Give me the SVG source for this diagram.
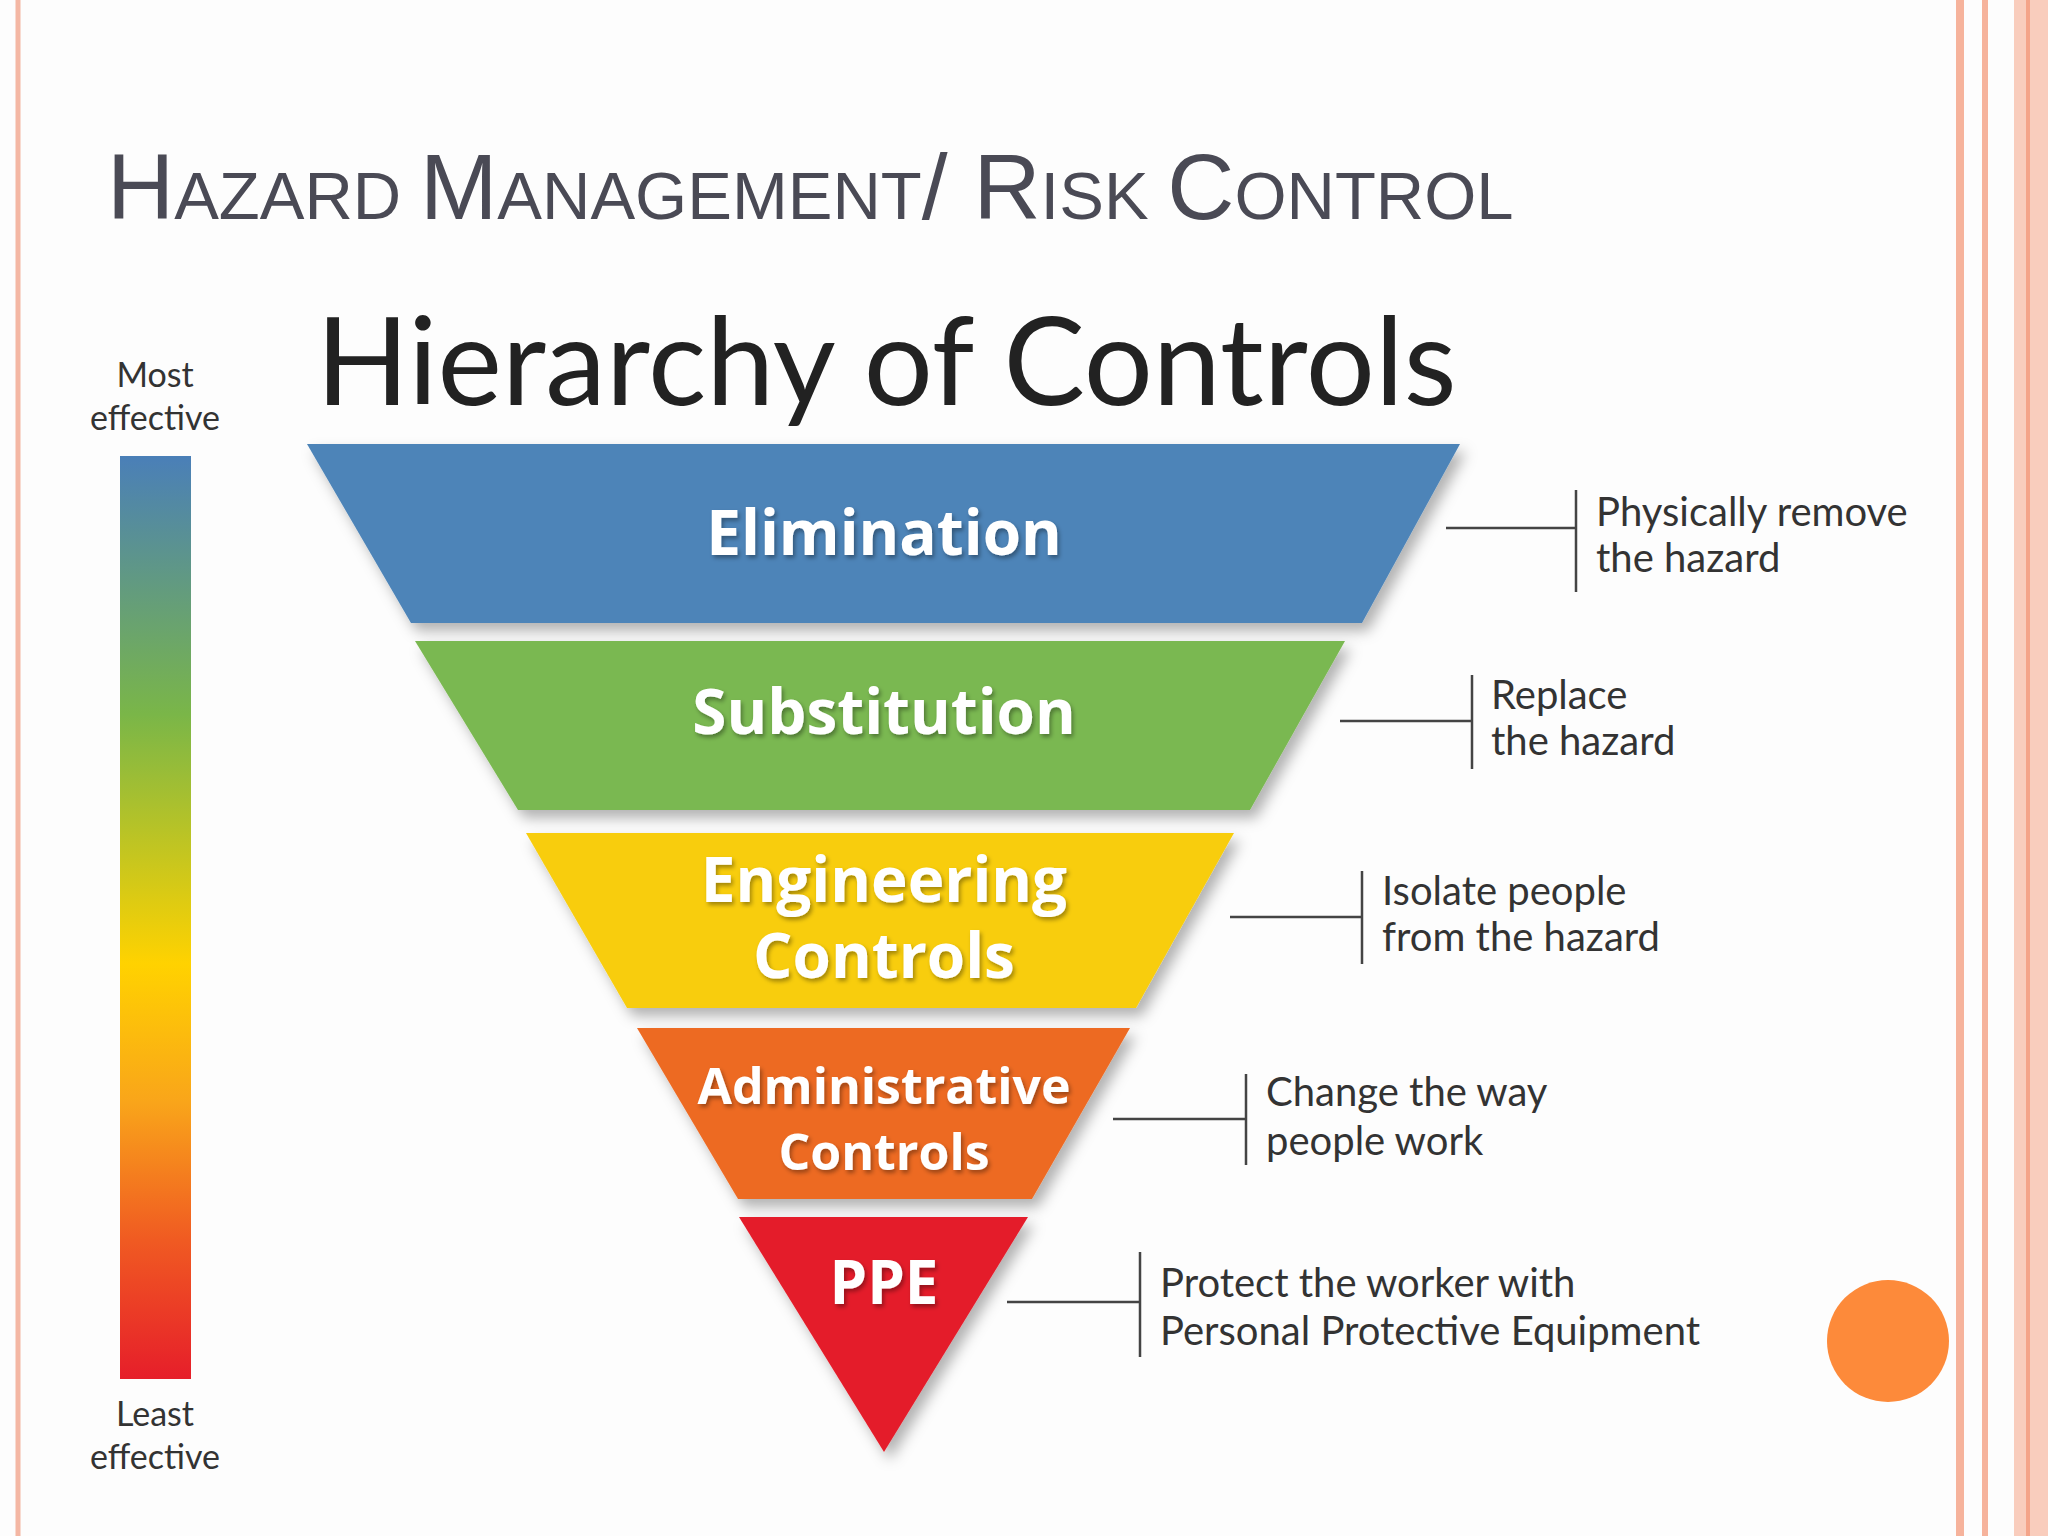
<svg xmlns="http://www.w3.org/2000/svg" width="2048" height="1536" viewBox="0 0 2048 1536">
<defs>
<linearGradient id="bar" x1="0" y1="0" x2="0" y2="1">
<stop offset="0" stop-color="#4a7fb8"/><stop offset="0.28" stop-color="#7ab648"/><stop offset="0.55" stop-color="#ffd200"/><stop offset="0.7" stop-color="#f9a51a"/><stop offset="0.85" stop-color="#f05a22"/><stop offset="1" stop-color="#e61e2a"/>
</linearGradient>
<filter id="sh" x="-10%" y="-10%" width="130%" height="130%"><feDropShadow dx="6" dy="8" stdDeviation="7" flood-color="#000" flood-opacity="0.3"/></filter>
<filter id="ts"><feDropShadow dx="2" dy="3" stdDeviation="2" flood-color="#000" flood-opacity="0.35"/></filter>
</defs>
<style>
.lbl{font-family:"Open Sans","Liberation Sans",sans-serif;font-weight:bold;fill:#fff;text-anchor:middle;filter:url(#ts)}
.note{font-family:"Lato","Open Sans",sans-serif;font-size:40px;fill:#333}
.con{stroke:#444;stroke-width:2.5;fill:none}
.side{font-family:"Lato","Open Sans",sans-serif;font-size:34px;fill:#333;text-anchor:middle}
</style>
<rect width="2048" height="1536" fill="#fdfdfd"/>
<line x1="18" y1="0" x2="18" y2="1536" stroke="#f4b7a4" stroke-width="5"/>
<rect x="1956" y="0" width="8" height="1536" fill="#f6b39c"/>
<rect x="1982" y="0" width="6" height="1536" fill="#f6b39c"/>
<rect x="2014" y="0" width="34" height="1536" fill="#f9cdbd"/>
<rect x="2026" y="0" width="4" height="1536" fill="#f4a489"/>
<text x="107" y="219" font-family="Liberation Sans, sans-serif" fill="#4a4a55" font-size="93">H<tspan font-size="67">AZARD </tspan>M<tspan font-size="67">ANAGEMENT</tspan>/ R<tspan font-size="67">ISK </tspan>C<tspan font-size="67">ONTROL</tspan></text>
<text x="316" y="405" font-family="Lato, 'Open Sans', sans-serif" font-size="122" fill="#222">Hierarchy of Controls</text>
<text class="side" x="155" y="387">Most</text><text class="side" x="155" y="430">effective</text>
<rect x="120" y="456" width="71" height="923" fill="url(#bar)"/>
<text class="side" x="155" y="1426">Least</text><text class="side" x="155" y="1469">effective</text>
<g id="elimination"><polygon points="307,444 1460,444 1362,623 411,623" fill="#4d84b8" filter="url(#sh)"/><text class="lbl" x="884" y="555" font-size="62">Elimination</text></g>
<g id="substitution"><polygon points="415,641 1345,641 1250,810 518,810" fill="#7ab851" filter="url(#sh)"/><text class="lbl" x="884" y="734" font-size="62">Substitution</text></g>
<g id="engineering"><polygon points="526,833 1234,833 1136,1008 627,1008" fill="#f8cd10" filter="url(#sh)"/><text class="lbl" x="884" y="902" font-size="62">Engineering</text><text class="lbl" x="884" y="978" font-size="62">Controls</text></g>
<g id="administrative"><polygon points="637,1028 1130,1028 1032,1199 738,1199" fill="#ed6a23" filter="url(#sh)"/><text class="lbl" x="884" y="1104" font-size="50">Administrative</text><text class="lbl" x="884" y="1170" font-size="50">Controls</text></g>
<g id="ppe"><polygon points="739,1217 1028,1217 884,1452" fill="#e41e2b" filter="url(#sh)"/><text class="lbl" x="884" y="1304" font-size="60">PPE</text></g>
<g id="connectors">
<path class="con" d="M1446,528H1576M1576,490V592"/>
<path class="con" d="M1340,721H1472M1472,675V769"/>
<path class="con" d="M1230,917H1362M1362,871V964"/>
<path class="con" d="M1113,1119H1246M1246,1074V1165"/>
<path class="con" d="M1007,1302H1140M1140,1252V1357"/>
</g>
<g id="notes">
<text class="note" x="1596" y="526">Physically remove</text><text class="note" x="1596" y="572">the hazard</text>
<text class="note" x="1491" y="709">Replace</text><text class="note" x="1491" y="755">the hazard</text>
<text class="note" x="1382" y="905">Isolate people</text><text class="note" x="1382" y="951">from the hazard</text>
<text class="note" x="1266" y="1106">Change the way</text><text class="note" x="1266" y="1155">people work</text>
<text class="note" x="1160" y="1297">Protect the worker with</text><text class="note" x="1160" y="1345">Personal Protective Equipment</text>
</g>
<circle cx="1888" cy="1341" r="61" fill="#fd8a3a"/>
</svg>
